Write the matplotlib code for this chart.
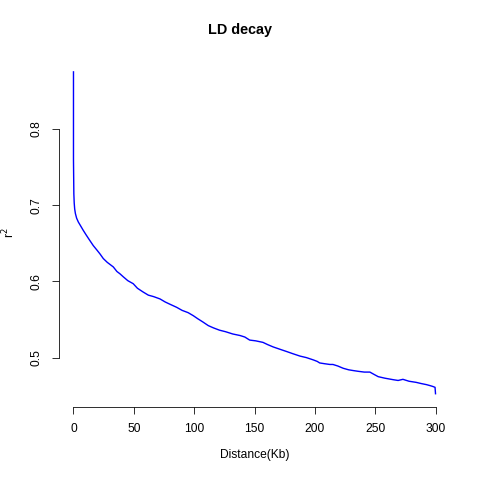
import matplotlib

matplotlib.use("Agg")
import matplotlib.pyplot as plt


# LD decay curve (distance in Kb, mean r^2)
distance_kb = [
    0.0, 0.0, 0.3, 0.6, 1.0, 1.6, 2.6, 4.0, 5.5, 8.1, 10.5, 13.0,
    16.4, 19.5, 22.0, 24.7, 28.0, 30.5, 33.0, 36.0, 38.5, 41.3, 45.0,
    49.5, 53.0, 57.8, 62.0, 66.5, 71.7, 76.0, 80.0, 85.5, 90.0, 95.0,
    99.3, 103.0, 107.0, 111.7, 116.0, 121.0, 126.0, 132.0, 138.0, 142.0,
    146.0, 151.0, 157.0, 161.0, 165.5, 171.0, 176.6, 182.0, 187.7, 193.0,
    198.7, 202.0, 204.0, 208.0, 212.5, 215.0, 219.0, 223.5, 228.0, 231.8,
    236.0, 241.0, 245.6, 249.0, 252.5, 258.0, 265.0, 269.0, 273.0, 278.0,
    284.0, 288.0, 292.6, 296.0, 298.0, 299.6, 300.0,
]
r2_values = [
    0.875, 0.760, 0.715, 0.703, 0.695, 0.689, 0.683, 0.678, 0.674, 0.667, 0.661, 0.655,
    0.647, 0.641, 0.636, 0.630, 0.625, 0.622, 0.619, 0.613, 0.610, 0.606, 0.601,
    0.597, 0.591, 0.586, 0.582, 0.580, 0.577, 0.573, 0.570, 0.566, 0.562, 0.559,
    0.555, 0.551, 0.547, 0.542, 0.539, 0.536, 0.534, 0.531, 0.529, 0.527,
    0.523, 0.522, 0.520, 0.517, 0.514, 0.511, 0.508, 0.505, 0.502, 0.500,
    0.497, 0.495, 0.493, 0.492, 0.491, 0.491, 0.489, 0.486, 0.484, 0.483,
    0.482, 0.481, 0.481, 0.478, 0.475, 0.473, 0.471, 0.470, 0.4715, 0.469,
    0.4675, 0.466, 0.4645, 0.463, 0.462, 0.461, 0.4526,
]

x_ticks = [0, 50, 100, 150, 200, 250, 300]
y_ticks = [0.5, 0.6, 0.7, 0.8]


def plot_ld_decay():

    plt.rcParams["font.family"] = ["Liberation Sans", "DejaVu Sans"]

    fig = plt.figure(figsize=(480 / 72, 480 / 72), dpi=72)
    ax = fig.add_axes([59 / 480, 73.4 / 480, 391 / 480, 347.6 / 480])

    ax.plot(distance_kb, r2_values, color="#0000FF", linewidth=1.4)

    # R style 4% padding around the data range
    x_pad = 0.04 * (max(distance_kb) - min(distance_kb))
    y_pad = 0.04 * (max(r2_values) - min(r2_values))
    ax.set_xlim(min(distance_kb) - x_pad, max(distance_kb) + x_pad)
    ax.set_ylim(min(r2_values) - y_pad, max(r2_values) + y_pad)

    for side in ["top", "right"]:
        ax.spines[side].set_visible(False)
    for side in ["left", "bottom"]:
        ax.spines[side].set_linewidth(0.8)
        ax.spines[side].set_color("black")
    ax.spines["left"].set_bounds(y_ticks[0], y_ticks[-1])
    ax.spines["bottom"].set_bounds(x_ticks[0], x_ticks[-1])

    ax.set_xticks(x_ticks)
    ax.set_xticklabels([str(t) for t in x_ticks])
    ax.set_yticks(y_ticks)
    ax.set_yticklabels([f"{t:.1f}" for t in y_ticks], rotation=90, va="center")

    ax.tick_params(axis="both", direction="out", length=7.2, width=0.8,
                   labelsize=12, color="black")
    ax.tick_params(axis="x", pad=9)
    ax.tick_params(axis="y", pad=9)

    ax.set_xlabel("Distance(Kb)", fontsize=12, labelpad=14)
    ax.set_ylabel(r"r$^2$", fontsize=12, labelpad=13)
    fig.text(0.5, 1 - 30 / 480, "LD decay", ha="center", va="center",
             fontsize=14.4, fontweight="bold")

    fig.savefig("out.png", dpi=72)


if __name__ == "__main__":
    plot_ld_decay()
